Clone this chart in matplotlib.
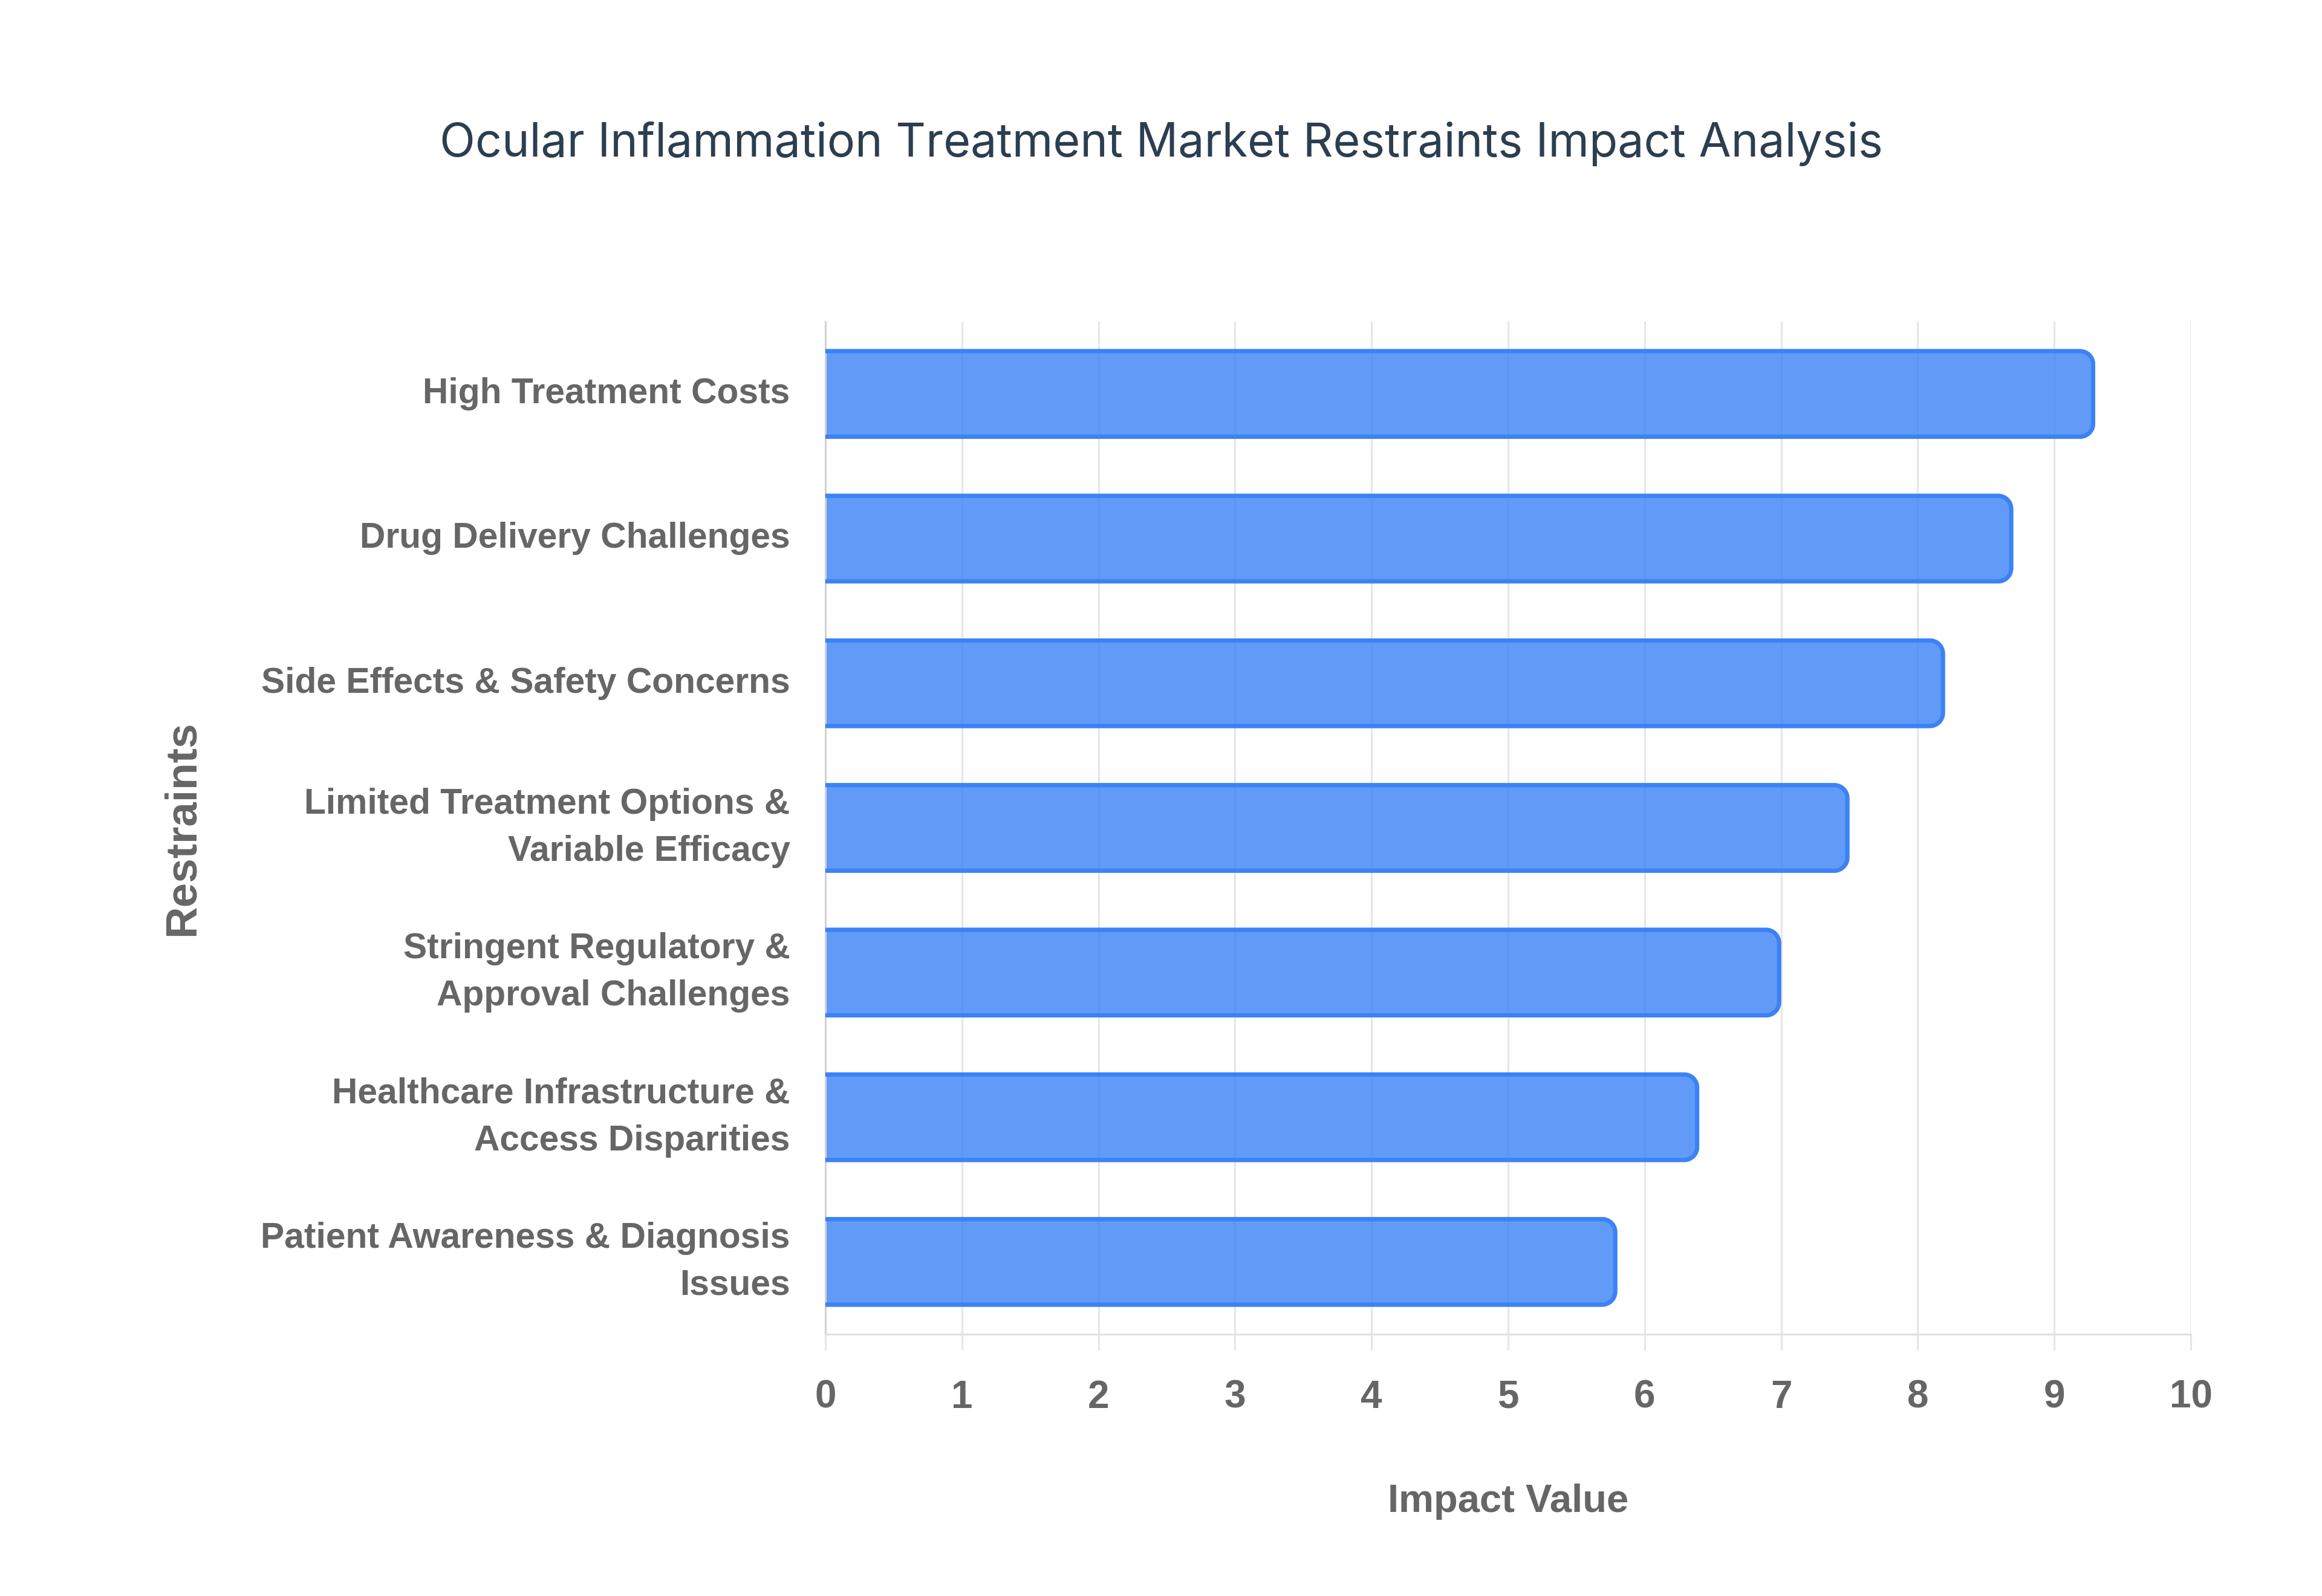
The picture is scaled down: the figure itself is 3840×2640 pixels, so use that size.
import matplotlib
matplotlib.use('Agg')
import matplotlib.pyplot as plt
from matplotlib.path import Path
from matplotlib.patches import PathPatch
import numpy as np

title = "Ocular Inflammation Treatment Market Restraints Impact Analysis"
categories = [
    "High Treatment Costs",
    "Drug Delivery Challenges",
    "Side Effects & Safety Concerns",
    "Limited Treatment Options &\nVariable Efficacy",
    "Stringent Regulatory &\nApproval Challenges",
    "Healthcare Infrastructure &\nAccess Disparities",
    "Patient Awareness & Diagnosis\nIssues",
]
values = [9.3, 8.7, 8.2, 7.5, 7.0, 6.4, 5.8]
x_ticks = [0, 1, 2, 3, 4, 5, 6, 7, 8, 9, 10]
x_label = "Impact Value"
y_label = "Restraints"

plt.rcParams['font.family'] = ['Liberation Sans', 'DejaVu Sans']

W, H = 3840, 2640
fig = plt.figure(figsize=(W / 100, H / 100), dpi=100)
fig.patch.set_facecolor('white')
L, R, T, B = 1365, 3623, 532, 2207
ax = fig.add_axes([L / W, 1 - B / H, (R - L) / W, (B - T) / H])

ypos = np.arange(len(categories))
ax.set_xlim(0, 10)
ax.set_ylim(len(categories) - 0.5, -0.5)

bars = ax.barh(ypos, values, height=0.62, color='none', edgecolor='none')

px_x = ax.transData.transform((1, 0))[0] - ax.transData.transform((0, 0))[0]
px_y = abs(ax.transData.transform((0, 1))[1] - ax.transData.transform((0, 0))[1])
r_px = 25.0
lw_px = 7.0
k = 0.5523
blue = '#3b82f6'
for b in bars:
    x0 = b.get_x(); x1 = x0 + b.get_width()
    y0 = b.get_y(); y1 = y0 + b.get_height()
    rx = r_px / px_x; ry = r_px / px_y
    verts = [(x0, y0), (x1 - rx, y0),
             (x1 - rx + k * rx, y0), (x1, y0 + ry - k * ry), (x1, y0 + ry),
             (x1, y1 - ry),
             (x1, y1 - ry + k * ry), (x1 - rx + k * rx, y1), (x1 - rx, y1),
             (x0, y1), (x0, y0)]
    codes = [Path.MOVETO, Path.LINETO,
             Path.CURVE4, Path.CURVE4, Path.CURVE4,
             Path.LINETO,
             Path.CURVE4, Path.CURVE4, Path.CURVE4,
             Path.LINETO, Path.CLOSEPOLY]
    ax.add_patch(PathPatch(Path(verts, codes), facecolor=blue, alpha=0.8,
                           edgecolor='none', zorder=2))
    dx = lw_px / 2 / px_x; dy = lw_px / 2 / px_y
    rxi = rx - dx; ryi = ry - dy
    bverts = [(x0, y0 + dy), (x1 - rx, y0 + dy),
              (x1 - rx + k * rxi, y0 + dy), (x1 - dx, y0 + ry - k * ryi), (x1 - dx, y0 + ry),
              (x1 - dx, y1 - ry),
              (x1 - dx, y1 - ry + k * ryi), (x1 - rx + k * rxi, y1 - dy), (x1 - rx, y1 - dy),
              (x0, y1 - dy)]
    bcodes = [Path.MOVETO, Path.LINETO,
              Path.CURVE4, Path.CURVE4, Path.CURVE4,
              Path.LINETO,
              Path.CURVE4, Path.CURVE4, Path.CURVE4,
              Path.LINETO]
    ax.add_patch(PathPatch(Path(bverts, bcodes), facecolor='none', edgecolor=blue,
                           linewidth=lw_px * 0.72, zorder=3, capstyle='butt',
                           joinstyle='miter'))

ax.set_axisbelow(True)
ax.xaxis.grid(True, color='#e6e6e6', linewidth=2.2)
ax.yaxis.grid(False)
for s in ['top', 'right']:
    ax.spines[s].set_visible(False)
ax.spines['left'].set_color('#d2d2d2')
ax.spines['left'].set_linewidth(2.2)
ax.spines['bottom'].set_color('#e0e0e0')
ax.spines['bottom'].set_linewidth(2.2)

ax.set_xticks(x_ticks, [str(t) for t in x_ticks], fontweight='bold')
ax.set_yticks(ypos, categories, fontweight='bold', linespacing=1.54, va='center')
ax.tick_params(axis='x', length=18.7, width=2.2, color='#e6e6e6', pad=35,
               labelsize=46, labelcolor='#666666')
ax.tick_params(axis='y', length=0, pad=42, labelsize=42.3, labelcolor='#666666')

ax.set_xlabel(x_label, fontsize=47, fontweight='bold', color='#666666', va='center')
ax.xaxis.set_label_coords(0.5, (B - 2484) / (B - T))
ax.set_ylabel(y_label, fontsize=52.5, fontweight='bold', color='#666666',
              va='center', ha='center')
ax.yaxis.set_label_coords((302 - L) / (R - L), 0.5)

fig.text(0.5, 1 - 259 / H, title, ha='center', va='baseline', fontsize=55.5,
         color='#2c3e50', family=['Inter', 'DejaVu Sans'])

fig.savefig('out.png', dpi=100, facecolor='white')
